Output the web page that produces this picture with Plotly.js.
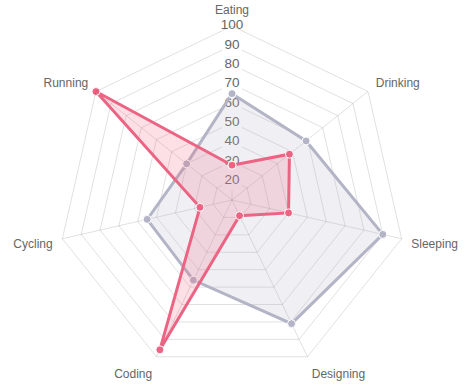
<!DOCTYPE html>
<html>
<head>
<meta charset="utf-8">
<script src="https://cdn.plot.ly/plotly-3.0.1.min.js"></script>
<style>html,body{margin:0;padding:0;background:#fff;}#chart{width:474px;height:386px;}</style>
</head>
<body>
<div id="chart"></div>
<script>
var categories = ["Eating", "Drinking", "Sleeping", "Designing", "Coding", "Cycling", "Running"];
var series1 = [65, 59, 90, 81, 56, 55, 40];
var series2 = [28, 48, 40, 19, 96, 27, 100];
var tickValues = [20, 30, 40, 50, 60, 70, 80, 90, 100];
var tickLabels = ["20", "30", "40", "50", "60", "70", "80", "90", "100"];

function closeLoop(a) { return a.concat([a[0]]); }

var tickTrace = {
  type: "scatterpolar",
  r: tickValues,
  theta: tickValues.map(function(){ return categories[0]; }),
  mode: "markers+text",
  text: tickLabels,
  textposition: "middle center",
  textfont: {family: "Liberation Sans, Arial, sans-serif", size: 13.5, color: "#666"},
  marker: {symbol: "square", size: 20, color: "#ffffff", line: {width: 0}},
  hoverinfo: "skip",
  showlegend: false,
  cliponaxis: false
};

var t1 = {
  type: "scatterpolar",
  r: closeLoop(series1),
  theta: closeLoop(categories),
  mode: "lines+markers",
  fill: "toself",
  fillcolor: "rgba(179,181,198,0.2)",
  line: {color: "rgba(179,181,198,1)", width: 3},
  marker: {size: 8, color: "rgba(179,181,198,1)", line: {color: "#fff", width: 1}},
  showlegend: false,
  cliponaxis: false
};
var t2 = {
  type: "scatterpolar",
  r: closeLoop(series2),
  theta: closeLoop(categories),
  mode: "lines+markers",
  fill: "toself",
  fillcolor: "rgba(240,99,132,0.2)",
  line: {color: "rgb(236,100,131)", width: 3},
  marker: {size: 8, color: "rgb(236,100,131)", line: {color: "#fff", width: 1}},
  showlegend: false,
  cliponaxis: false
};

var W = 474, H = 386, cx = 232, cy = 200, R = 174;
var layout = {
  width: W, height: H,
  margin: {l: 0, r: 0, t: 0, b: 0},
  paper_bgcolor: "#fff",
  showlegend: false,
  font: {family: "Liberation Sans, Arial, sans-serif", color: "#666"},
  polar: {
    domain: {x: [(cx - R) / W, (cx + R) / W], y: [(H - cy - R) / H, (H - cy + R) / H]},
    bgcolor: "rgba(0,0,0,0)",
    gridshape: "linear",
    radialaxis: {
      range: [10, 100], tick0: 10, dtick: 10, angle: 90,
      showticklabels: false, ticks: "", showline: false,
      gridcolor: "rgba(0,0,0,0.12)", gridwidth: 1
    },
    angularaxis: {
      type: "category", categoryarray: categories,
      rotation: 90, direction: "clockwise",
      showline: true, linecolor: "rgba(0,0,0,0.12)", linewidth: 1,
      gridcolor: "rgba(0,0,0,0.12)",
      ticks: "outside", ticklen: 7, tickcolor: "rgba(0,0,0,0)",
      tickfont: {family: "Liberation Sans, Arial, sans-serif", size: 12, color: "#666"}
    }
  }
};

Plotly.newPlot("chart", [tickTrace, t1, t2], layout, {staticPlot: true, displayModeBar: false});
</script>
</body>
</html>
